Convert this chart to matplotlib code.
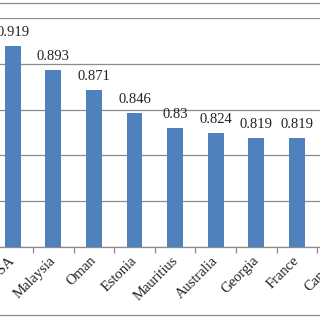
import matplotlib
matplotlib.use('Agg')
import matplotlib.pyplot as plt
from matplotlib.lines import Line2D

countries = ['USA', 'Malaysia', 'Oman', 'Estonia', 'Mauritius',
             'Australia', 'Georgia', 'France', 'Canada']
scores = [0.919, 0.893, 0.871, 0.846, 0.83, 0.824, 0.819, 0.819, 0.811]
score_labels = ['0.919', '0.893', '0.871', '0.846', '0.83',
                '0.824', '0.819', '0.819', '0.811']

plt.rcParams['font.family'] = ['Liberation Serif', 'DejaVu Serif']

fig = plt.figure(figsize=(3.2, 3.2), dpi=100)
ax = fig.add_axes([0, 0.228, 1, 0.716])

x = list(range(len(countries)))
ax.bar(x, scores, width=0.39, color='#4F81BD', zorder=3)

for xi, v, lab in zip(x, scores, score_labels):
    ax.annotate(lab, (xi, v), xytext=(0, 5), textcoords='offset points',
                ha='center', va='bottom', fontsize=10.5, color='#222222',
                annotation_clip=False)

# category labels drawn as annotations so the one past the edge still shows
for xi, name in zip(x, countries):
    ax.annotate(name, (xi, 0), xycoords=('data', 'axes fraction'),
                xytext=(-3, -5), textcoords='offset points',
                rotation=45, ha='right', va='top', rotation_mode='anchor',
                fontsize=10.5, color='#222222', annotation_clip=False)

ax.set_yticks([0.7, 0.75, 0.8, 0.85, 0.9, 0.95])
ax.yaxis.grid(True, color='#8c8c8c', linewidth=0.9, zorder=0)
ax.tick_params(axis='y', left=False, labelleft=False)

ax.set_xticks([])
ax.set_xticks([i + 0.5 for i in range(-1, len(countries))], minor=True)
ax.tick_params(axis='x', which='minor', length=4, color='#8c8c8c', width=0.9)

ax.set_xlim(-0.313, 7.57)
ax.set_ylim(0.7, 0.95)

for side in ['top', 'right', 'left']:
    ax.spines[side].set_visible(False)
ax.spines['bottom'].set_color('#8c8c8c')
ax.spines['bottom'].set_linewidth(0.9)

# outer chart frame (only top and bottom edges are in view)
fig.add_artist(Line2D([0, 1], [1 - 3 / 320, 1 - 3 / 320],
                      color='#8c8c8c', linewidth=0.9))
fig.add_artist(Line2D([0, 1], [1 - 315 / 320, 1 - 315 / 320],
                      color='#8c8c8c', linewidth=0.9))

fig.savefig('out.png', dpi=100)
